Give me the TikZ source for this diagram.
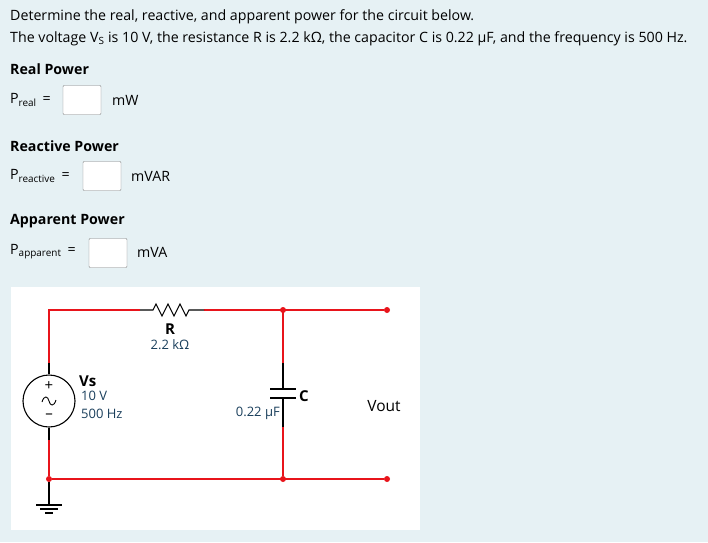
\documentclass[tikz,border=0pt]{standalone}
\usepackage{fontspec}
\setmainfont{Open Sans}
\definecolor{bg}{HTML}{E6F1F4}
\definecolor{wire}{HTML}{E8141B}
\definecolor{val}{HTML}{1A3F5C}
\begin{document}
\begin{tikzpicture}[x=1pt,y=-1pt,
  txt/.style={anchor=west,inner sep=0,font=\fontsize{14.2}{16}\selectfont},
  hd/.style={anchor=west,inner sep=0,font=\fontsize{14.2}{16}\selectfont\bfseries},
  ansbox/.style={draw=gray,fill=white,minimum width=38,minimum height=29,inner sep=0,rounded corners=1},
  rw/.style={wire,line width=1.1},
  bw/.style={black,line width=1.1},
  dot/.style={circle,fill=wire,inner sep=0,minimum size=6},
  lab/.style={inner sep=0,font=\fontsize{13}{15}\selectfont,text=val}]
\useasboundingbox[fill=bg] (0,0) rectangle (708,542);
\node[txt] (l1) at (10,17) {Determine the real, reactive, and apparent power for the circuit below.};
\node[txt] (l2) at (10,39) {The voltage V\textsubscript{S} is 10 V, the resistance R is 2.2 kΩ, the capacitor C is 0.22 µF, and the frequency is 500 Hz.};
\node[hd] (h1) at (10,69) {Real Power};
\node[txt] (p1) at (10,100) {P\textsubscript{real}\hspace{6pt}=};
\node[ansbox] (b1) at (82,100) {};
\node[txt] (u1) at (112,100) {mW};
\node[hd] (h2) at (10,146) {Reactive Power};
\node[txt] (p2) at (10,176) {P\textsubscript{reactive}\hspace{6pt}=};
\node[ansbox] (b2) at (102,176) {};
\node[txt] (u2) at (131,176) {mVAR};
\node[hd] (h3) at (10,221) {Apparent Power};
\node[txt] (p3) at (10,252) {P\textsubscript{apparent}\hspace{6pt}=};
\node[ansbox] (b3) at (108,253) {};
\node[txt] (u3) at (137,252) {mVA};
\fill[white] (11,287) rectangle (420,530);
% coordinates
\coordinate (tl) at (49,310); \coordinate (ra) at (140,310); \coordinate (rb) at (204,310);
\coordinate (tn) at (283,310); \node[dot] (tr) at (387,310) {};
\node[dot] (bl) at (49,479) {}; \node[dot] (bn) at (283,479) {}; \node[dot] (br) at (387,479) {};
\node[draw,circle,line width=1.1,minimum size=52,inner sep=0] (vs) at (49,401) {};
\coordinate (vt) at (49,363); \coordinate (vb) at (49,440);
% wires
\draw[rw] (vt) -- (tl) -- (ra);
\draw[rw] (rb) -- (tn) -- (tr);
\node[dot] at (tn) {};
\draw[rw] (vb) -- (bl) -- (br);
\draw[bw] (vt) -- (vs.north); \draw[bw] (vs.south) -- (vb);
\draw[bw] (ra) -- (153,310) -- (156,304) -- (162,316) -- (168,304) -- (174,316) -- (180,304) -- (186,316) -- (189,310) -- (rb);
\node[inner sep=0] (plus) at (49,386) {\fontsize{15}{15}\selectfont +};
\node[inner sep=0] (minus) at (49,416) {\fontsize{15}{15}\selectfont –};
\draw[line width=0.9] (42,402) .. controls (44,395) and (48,396) .. (49,401) .. controls (50,406) and (54,407) .. (56,400);
% capacitor
\coordinate (ct) at (283,363); \coordinate (cb) at (283,427);
\draw[rw] (tn) -- (ct); \draw[rw] (cb) -- (bn);
\draw[bw] (ct) -- (283,389); \draw[bw] (283,398) -- (cb);
\draw[black,line width=2.6] (270,389) -- (296,389); \draw[black,line width=2.6] (270,398) -- (296,398);
% ground
\draw[bw] (bl) -- (49,505);
\draw[bw] (36,505) -- (62,505); \draw[bw] (40,509) -- (58,509); \draw[bw] (45,513) -- (53,513);
% labels
\node[inner sep=0,font=\fontsize{15}{16}\selectfont\bfseries] (rl) at (170,329) {R};
\node[lab] (rv) at (170,345) {2.2 kΩ};
\node[inner sep=0,anchor=west,font=\fontsize{15}{16}\selectfont\bfseries] (vsl) at (79,381) {Vs};
\node[lab,anchor=west] (vs1) at (81,396) {10 V};
\node[lab,anchor=west] (vs2) at (81,414) {500 Hz};
\node[inner sep=0,anchor=west,font=\fontsize{15}{16}\selectfont\bfseries] (cl) at (299,396) {C};
\node[lab,anchor=east] (cv) at (280,413) {0.22 µF};
\node[inner sep=0,font=\fontsize{15.5}{17}\selectfont] (vo) at (384,406) {Vout};
\end{tikzpicture}
\end{document}
